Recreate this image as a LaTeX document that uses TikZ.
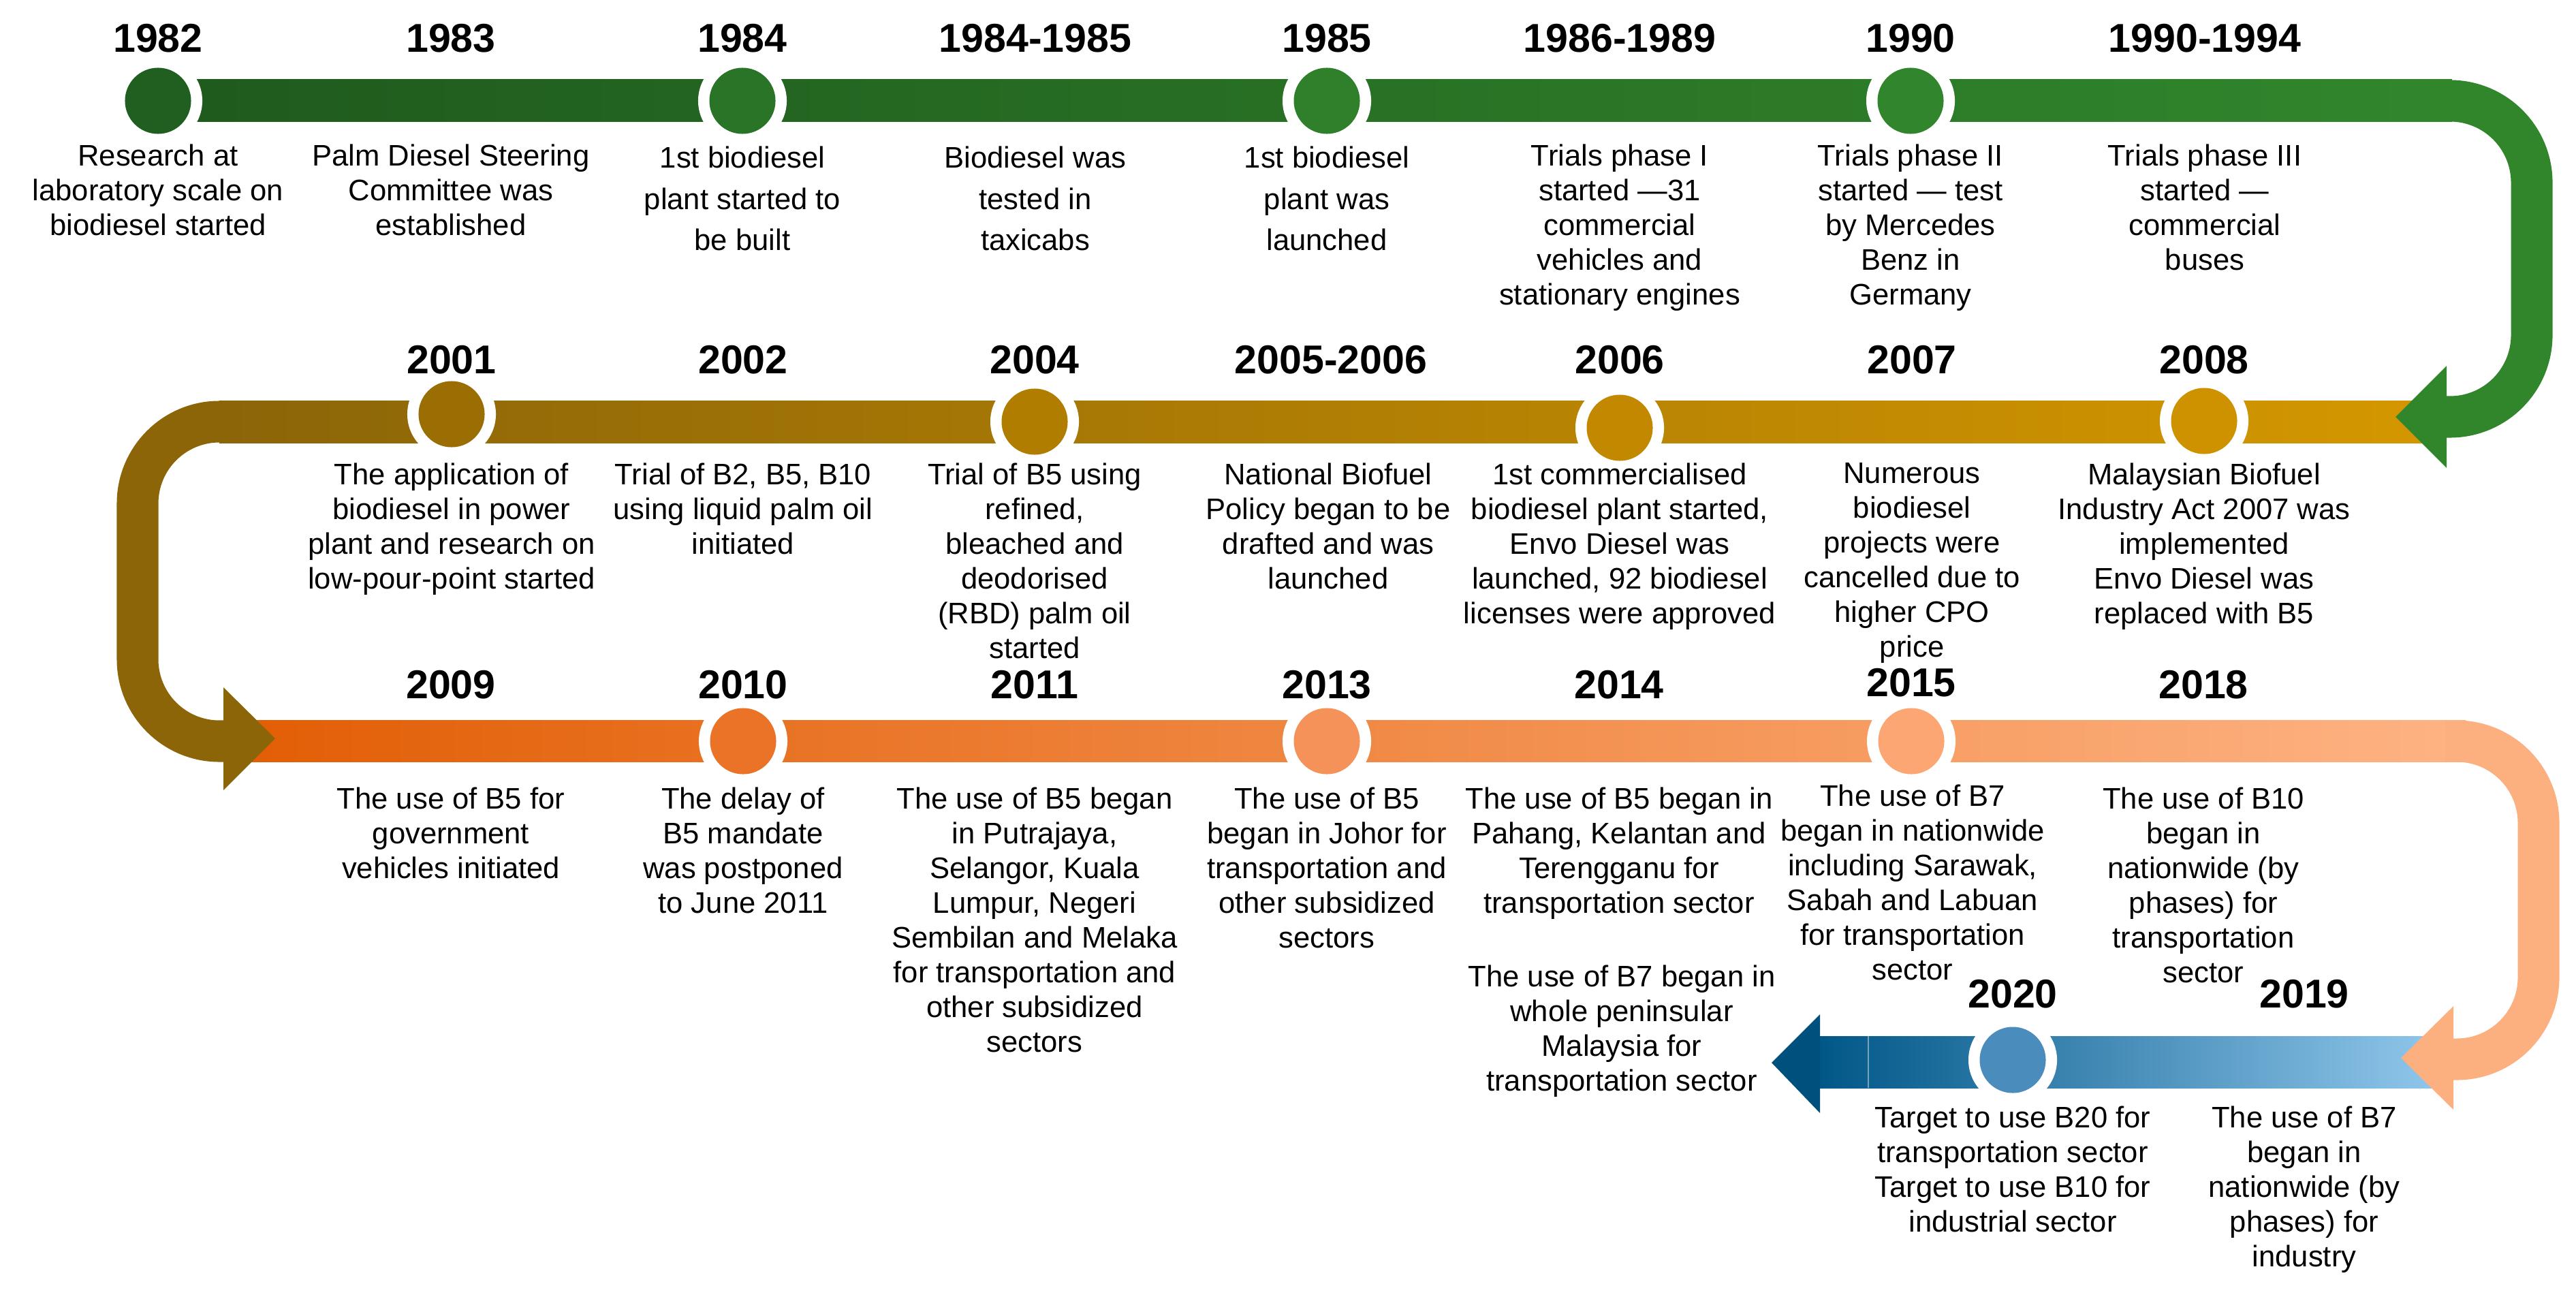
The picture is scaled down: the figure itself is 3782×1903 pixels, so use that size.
\documentclass[tikz,border=0pt]{standalone}
\usepackage{fontspec}
\setmainfont{Liberation Sans}
\definecolor{gA}{HTML}{1F5A1D}
\definecolor{gB}{HTML}{2E7E2A}
\definecolor{gC}{HTML}{31862C}
\definecolor{oA}{HTML}{8B6508}
\definecolor{oB}{HTML}{B98300}
\definecolor{oC}{HTML}{D49700}
\definecolor{rA}{HTML}{E25E05}
\definecolor{rB}{HTML}{F48C4E}
\definecolor{rC}{HTML}{FEB383}
\definecolor{rT}{HTML}{FDB07F}
\definecolor{bA}{HTML}{00507E}
\definecolor{bL}{HTML}{005787}
\definecolor{bM}{HTML}{5B9BC8}
\definecolor{bR}{HTML}{8FC5EA}
% circle colours
\definecolor{k1982}{HTML}{215F20}
\definecolor{k1983}{HTML}{256923}
\definecolor{k1984}{HTML}{2A7427}
\definecolor{k1984b}{HTML}{2D7A29}
\definecolor{k1985}{HTML}{2F7F2B}
\definecolor{k1986}{HTML}{30832C}
\definecolor{k1990}{HTML}{31862D}
\definecolor{k1990b}{HTML}{32882E}
\definecolor{k2001}{HTML}{9A6E03}
\definecolor{k2002}{HTML}{A57600}
\definecolor{k2004}{HTML}{B07D00}
\definecolor{k2005}{HTML}{BA8400}
\definecolor{k2006}{HTML}{C28900}
\definecolor{k2007}{HTML}{C98E00}
\definecolor{k2008}{HTML}{CE9200}
\definecolor{k2009}{HTML}{E3600C}
\definecolor{k2010}{HTML}{EA7327}
\definecolor{k2011}{HTML}{F08340}
\definecolor{k2013}{HTML}{F5925A}
\definecolor{k2014}{HTML}{F99E6A}
\definecolor{k2015}{HTML}{FCA674}
\definecolor{k2018}{HTML}{FDAC7B}
\definecolor{k2020}{HTML}{4A8CBB}
\definecolor{k2019}{HTML}{8BC0E5}
\newcommand\mstone[4]{%
  \node[ring] (r#1) at (#2,#3) {};
  \node[dot, fill=k#1] (m#1) at (#2,#3) {};}
\begin{document}
\begin{tikzpicture}[x=0.01cm,y=-0.01cm,
  desc/.style={font=\fontsize{12.4pt}{14.5pt}\selectfont, align=center, inner sep=0pt, anchor=north},
  descw/.style={desc, font=\fontsize{12.4pt}{17.3pt}\selectfont},
  yr/.style={font=\fontsize{16.8pt}{20pt}\selectfont\bfseries, inner sep=0pt},
  dot/.style={circle, inner sep=0pt, minimum size=0.97cm},
  ring/.style={circle, inner sep=0pt, minimum size=1.30cm, fill=white},
  turn/.style={line width=0.61cm, rounded corners=1.2cm}]
\useasboundingbox (0,0) rectangle (3782,1903);

% ---- bars ----
\shade[left color=gA, middle color=gB, right color=gC] (232,117) rectangle (3600,179);
\shade[left color=oA, middle color=oB, right color=oC] (322,588) rectangle (3580,650);
\shade[left color=rA, middle color=rB, right color=rC] (340,1057) rectangle (3620,1118);
\shade[left color=bL, middle color=bM, right color=bR] (2668,1521) rectangle (3570,1597);
\fill[bA] (2601,1560) -- (2672,1489) -- (2672,1634) -- cycle;
\coordinate (seamT) at (2743,1521);
\coordinate (seamB) at (2743,1597);
\draw[white!45!bL, line width=0.6pt] (seamT) -- (seamB);

% ---- turns ----
\draw[turn, gC] (3560,148) -- (3717,148) -- (3717,612) -- (3560,612);
\fill[gC] (3517,612) -- (3592,537) -- (3592,687) -- cycle;
\draw[turn, oA] (330,619) -- (202,619) -- (202,1088) -- (370,1088);
\fill[oA] (404,1084) -- (328,1009) -- (328,1160) -- cycle;
\draw[turn, rT] (3590,1088) -- (3727,1088) -- (3727,1555) -- (3565,1555);
\fill[rT] (3525,1553) -- (3602,1477) -- (3602,1629) -- cycle;

% ---- milestones ----
\mstone{1982}{232}{148}
\mstone{1983}{662}{148}
\mstone{1984}{1090}{148}
\mstone{1984b}{1520}{148}
\mstone{1985}{1948}{148}
\mstone{1986}{2378}{148}
\mstone{1990}{2805}{148}
\mstone{1990b}{3237}{148}
\mstone{2001}{663}{608}
\mstone{2002}{1091}{619}
\mstone{2004}{1519}{619}
\mstone{2005}{1950}{619}
\mstone{2006}{2378}{628}
\mstone{2007}{2807}{618}
\mstone{2008}{3236}{618}
\mstone{2009}{662}{1088}
\mstone{2010}{1091}{1088}
\mstone{2011}{1519}{1088}
\mstone{2013}{1948}{1088}
\mstone{2014}{2377}{1088}
\mstone{2015}{2806}{1088}
\mstone{2018}{3235}{1088}
\mstone{2020}{2955}{1556}
\mstone{2019}{3383}{1556}

% ---- years ----
\node[yr] (y1982) at (232,56) {1982};
\node[yr] (y1983) at (662,56) {1983};
\node[yr] (y1984) at (1090,56) {1984};
\node[yr] (y1984b) at (1520,56) {1984-1985};
\node[yr] (y1985) at (1948,56) {1985};
\node[yr] (y1986) at (2378,56) {1986-1989};
\node[yr] (y1990) at (2805,56) {1990};
\node[yr] (y1990b) at (3237,56) {1990-1994};
\node[yr] (y2001) at (663,528) {2001};
\node[yr] (y2002) at (1091,528) {2002};
\node[yr] (y2004) at (1519,528) {2004};
\node[yr] (y2005) at (1954,528) {2005-2006};
\node[yr] (y2006) at (2378,528) {2006};
\node[yr] (y2007) at (2807,528) {2007};
\node[yr] (y2008) at (3236,528) {2008};
\node[yr] (y2009) at (662,1005) {2009};
\node[yr] (y2010) at (1091,1005) {2010};
\node[yr] (y2011) at (1519,1005) {2011};
\node[yr] (y2013) at (1948,1005) {2013};
\node[yr] (y2014) at (2377,1005) {2014};
\node[yr] (y2015) at (2806,1002) {2015};
\node[yr] (y2018) at (3235,1005) {2018};
\node[yr] (y2020) at (2955,1459) {2020};
\node[yr] (y2019) at (3383,1459) {2019};

% ---- descriptions ----
\node[desc] (d1982) at (232,211) {Research at\\laboratory scale on\\biodiesel started};
\node[desc] (d1983) at (662,211) {Palm Diesel Steering\\Committee was\\established};
\node[descw] (d1984) at (1090,214) {1st biodiesel\\plant started to\\be built};
\node[descw] (d1984b) at (1520,214) {Biodiesel was\\tested in\\taxicabs};
\node[descw] (d1985) at (1948,214) {1st biodiesel\\plant was\\launched};
\node[desc] (d1986) at (2378,211) {Trials phase I\\started —31\\commercial\\vehicles and\\stationary engines};
\node[desc] (d1990) at (2805,211) {Trials phase II\\started — test\\by Mercedes\\Benz in\\Germany};
\node[desc] (d1990b) at (3237,211) {Trials phase III\\started —\\commercial\\buses};

\node[desc] (d2001) at (663,679) {The application of\\biodiesel in power\\plant and research on\\low-pour-point started};
\node[desc] (d2002) at (1091,679) {Trial of B2, B5, B10\\using liquid palm oil\\initiated};
\node[desc] (d2004) at (1519,679) {Trial of B5 using\\refined,\\bleached and\\deodorised\\(RBD) palm oil\\started};
\node[desc] (d2005) at (1950,679) {National Biofuel\\Policy began to be\\drafted and was\\launched};
\node[desc] (d2006) at (2378,679) {1st commercialised\\biodiesel plant started,\\Envo Diesel was\\launched, 92 biodiesel\\licenses were approved};
\node[desc] (d2007) at (2807,679) {Numerous\\biodiesel\\projects were\\cancelled due to\\higher CPO\\price};
\node[desc] (d2008) at (3236,679) {Malaysian Biofuel\\Industry Act 2007 was\\implemented\\Envo Diesel was\\replaced with B5};

\node[desc] (d2009) at (662,1155) {The use of B5 for\\government\\vehicles initiated};
\node[desc] (d2010) at (1091,1155) {The delay of\\B5 mandate\\was postponed\\to June 2011};
\node[desc] (d2011) at (1519,1155) {The use of B5 began\\in Putrajaya,\\Selangor, Kuala\\Lumpur, Negeri\\Sembilan and Melaka\\for transportation and\\other subsidized\\sectors};
\node[desc] (d2013) at (1948,1155) {The use of B5\\began in Johor for\\transportation and\\other subsidized\\sectors};
\node[desc] (d2014) at (2377,1155) {The use of B5 began in\\Pahang, Kelantan and\\Terengganu for\\transportation sector};
\node[desc] (d2014b) at (2381,1416) {The use of B7 began in\\whole peninsular\\Malaysia for\\transportation sector};
\node[desc] (d2015) at (2808,1151) {The use of B7\\began in nationwide\\including Sarawak,\\Sabah and Labuan\\for transportation\\sector};
\node[desc] (d2018) at (3235,1155) {The use of B10\\began in\\nationwide (by\\phases) for\\transportation\\sector};

\node[desc] (d2020) at (2955,1623) {Target to use B20 for\\transportation sector\\Target to use B10 for\\industrial sector};
\node[desc] (d2019) at (3383,1623) {The use of B7\\began in\\nationwide (by\\phases) for\\industry};
\end{tikzpicture}
\end{document}
